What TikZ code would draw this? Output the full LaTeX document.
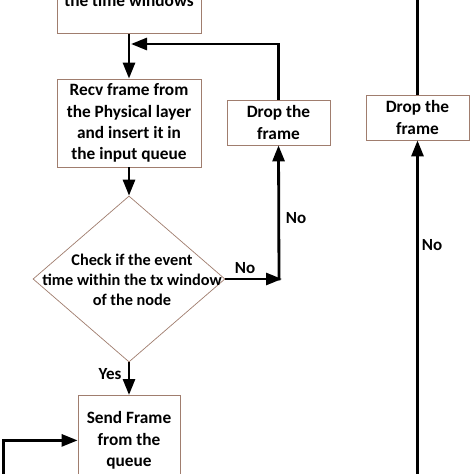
\documentclass[tikz,border=0pt]{standalone}
\usepackage{fontspec}
\setmainfont{Carlito}
\usetikzlibrary{shapes.geometric,arrows.meta}
\definecolor{boxline}{RGB}{160,125,110}

\begin{document}
\begin{tikzpicture}[x=1pt, y=-1pt,
    box/.style={draw=boxline, line width=0.8pt, fill=white, align=center,
      font=\fontsize{17.3}{21.3}\selectfont\bfseries, inner sep=2pt},
    check/.style={diamond, draw=boxline, line width=0.7pt, fill=white,
      inner sep=0pt, minimum width=192pt, minimum height=166pt},
    checktext/.style={align=center, font=\fontsize{16.3}{20}\selectfont\bfseries, inner sep=0pt},
    flow/.style={line width=2.8pt, -{Triangle[length=16pt,width=12pt]}},
    plain/.style={line width=2.8pt},
    lbl/.style={font=\fontsize{17}{19}\selectfont\bfseries, inner sep=0pt}]
        \useasboundingbox (0, 0) rectangle (474, 474);
        \clip (0, 0) rectangle (474, 474);
        % boxes
        \node[box, minimum width=144pt, anchor=south] (init) at (129, 34)
          {\mbox{}\\the time windows\\[4pt] \mbox{}};
        \node[box, minimum width=144pt, minimum height=88pt] (recv) at (129, 123)
          {Recv frame from\\the Physical layer\\and insert it in\\the input queue};
        \node[box, minimum width=103pt, minimum height=45pt] (drop1) at (278.5, 122.5)
          {Drop the\\frame};
        \node[box, minimum width=103pt, minimum height=45pt] (drop2) at (417.5, 117.5)
          {Drop the\\frame};
        \node[check] (chk) at (129, 279) {};
        \node[checktext] (chktext) at (132, 280)
          {Check if the event\\time within the tx window\\of the node};
        \node[box, minimum width=102pt, minimum height=90pt, anchor=north] (send) at (129, 395)
          {Send Frame\\from the\\queue};
        % free ends
        \coordinate (merge) at (131, 44);
        \coordinate (turn) at (282, 279);
        \coordinate (rise) at (279, 280.4);
        \coordinate (top2) at (417.5, -20);
        \coordinate (bot2) at (417.5, 500);
        \coordinate (loop) at (3.5, 500);
        % connectors
        \draw[flow] (init.south) -- (recv.north);
        \draw[flow] (drop1.north) |- (merge);
        \draw[flow] (recv.south) -- (chk.north);
        \draw[flow] (chk.east) -- (turn);
        \draw[flow] (rise) -- (drop1.south);
        \draw[flow] (chk.south) -- (send.north);
        \draw[plain] (drop2.north) -- (top2);
        \draw[flow] (bot2) -- (drop2.south);
        \draw[flow] (loop) |- (send.west);
        % labels
        \node[lbl] (no1) at (245, 268) {No};
        \node[lbl] (no2) at (296, 218) {No};
        \node[lbl] (no3) at (432, 245) {No};
        \node[lbl] (yes) at (110, 374) {Yes};
      \end{tikzpicture}
\end{document}
